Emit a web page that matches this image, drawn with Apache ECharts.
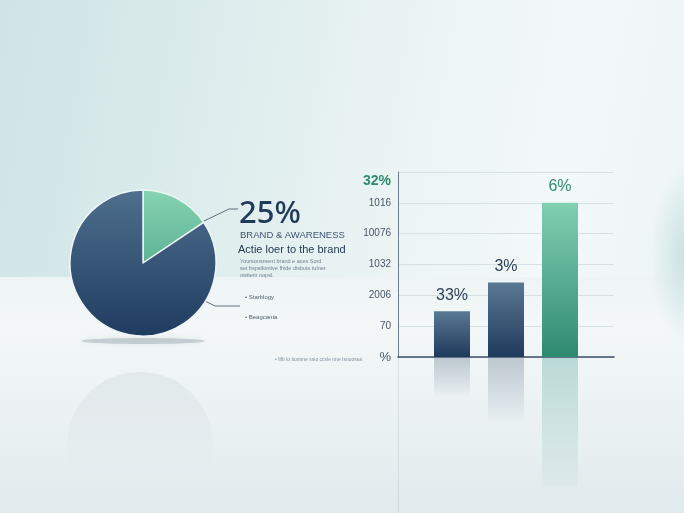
<!DOCTYPE html>
<html>
<head>
<meta charset="utf-8">
<script src="https://cdn.jsdelivr.net/npm/echarts@6/dist/echarts.min.js"></script>
<style>
html,body{margin:0;padding:0;}
#c{width:684px;height:513px;
background:
 radial-gradient(ellipse 40px 90px at 690px 255px, rgba(165,205,206,0.55), rgba(165,205,206,0) 100%),
 linear-gradient(100deg, #cfe4e5 0%, #dcecec 30%, #eaf3f3 55%, #f3f8f8 80%, #eef5f5 100%) 0 0 / 684px 277px no-repeat,
 linear-gradient(to bottom, #eef4f5 0%, #f3f7f8 20%, #e9f0f2 70%, #e0e9ec 100%) 0 277px / 684px 236px no-repeat;}
</style>
</head>
<body>
<div id="c"></div>
<script>
// ---- data ----
const pieNames = ['Brand awareness', 'Other'];
const pieValues = [15.6, 84.4];
const barCategories = [' ', 'A', 'B', 'C', '  '];
const barValues = ['-', 1.48, 2.42, 5.0, '-'];
const barLabels = ['', '33%', '3%', '6%', ''];
const yTickLabels = ['%', '70', '2006', '1032', '10076', '1016', '32%'];

const chart = echarts.init(document.getElementById('c'), null, {renderer: 'canvas'});

const navyGrad = new echarts.graphic.LinearGradient(0, 0, 0, 1, [
  {offset: 0, color: '#5a7994'}, {offset: 1, color: '#1e3a5c'}]);
const greenGrad = new echarts.graphic.LinearGradient(0, 0, 0, 1, [
  {offset: 0, color: '#82cfb1'}, {offset: 1, color: '#2f8a72'}]);
const navyRefl = new echarts.graphic.LinearGradient(0, 0, 0, 1, [
  {offset: 0, color: 'rgba(70,95,120,0.30)'}, {offset: 1, color: 'rgba(70,95,120,0.02)'}]);
const greenRefl = new echarts.graphic.LinearGradient(0, 0, 0, 1, [
  {offset: 0, color: 'rgba(80,165,150,0.34)'}, {offset: 1, color: 'rgba(80,165,150,0.03)'}]);

const barData = barValues.map((v, i) => ({
  value: v,
  itemStyle: {color: i === 3 ? greenGrad : navyGrad},
  label: {color: i === 3 ? '#2e8b6c' : '#2c3f57'}
}));
const reflData = barValues.map((v, i) => ({
  value: v,
  itemStyle: {color: i === 3 ? greenRefl : navyRefl}
}));

const pieColors = [
  new echarts.graphic.LinearGradient(0, 0, 0, 1, [{offset: 0, color: '#86d4b3'}, {offset: 1, color: '#5db293'}]),
  new echarts.graphic.LinearGradient(0, 0, 0, 1, [{offset: 0, color: '#4f6f8e'}, {offset: 1, color: '#1f3c60'}])
];
// global (pixel) gradient so both reflected slices fade together
const pieRefl = new echarts.graphic.LinearGradient(0, 372, 0, 470, [
  {offset: 0, color: 'rgba(120,138,150,0.10)'}, {offset: 0.5, color: 'rgba(120,138,150,0.05)'}, {offset: 1, color: 'rgba(120,138,150,0.0)'}], true);

const font = "'Noto Sans', 'Open Sans', sans-serif";
const font2 = "'Liberation Sans', Arial, sans-serif";

chart.setOption({
  backgroundColor: 'transparent',
  animation: false,
  textStyle: {fontFamily: font},
  grid: [
    {left: 398, top: 172, width: 216, height: 185},
    {left: 398, top: 358, width: 216, height: 185}
  ],
  xAxis: [
    {type: 'category', gridIndex: 0, data: barCategories, boundaryGap: false,
     axisLine: {show: true, lineStyle: {color: '#3b4f66', width: 1.6}},
     axisTick: {show: false}, axisLabel: {show: false}, splitLine: {show: false}},
    {type: 'category', gridIndex: 1, data: barCategories, boundaryGap: false,
     axisLine: {show: false}, axisTick: {show: false}, axisLabel: {show: false}, splitLine: {show: false}}
  ],
  yAxis: [
    {type: 'value', gridIndex: 0, min: 0, max: 6, interval: 1,
     axisLine: {show: true, lineStyle: {color: '#6f7e8c', width: 1}},
     axisTick: {show: false},
     splitLine: {show: true, lineStyle: {color: '#d6e1e4', width: 1}},
     axisLabel: {
       margin: 7, color: '#465566', fontSize: 10, fontFamily: font2,
       formatter: v => {
         const t = yTickLabels[Math.round(v)];
         if (Math.round(v) === 6) return '{top|' + t + '}';
         if (Math.round(v) === 0) return '{pct|' + t + '}';
         return t;
       },
       rich: {
         top: {color: '#2e8b6c', fontSize: 14, fontWeight: 'bold', fontFamily: font2, padding: [0, 0, -18, 0]},
         pct: {color: '#4a5868', fontSize: 13, fontFamily: font2}
       }
     }},
    {type: 'value', gridIndex: 1, min: 0, max: 6, interval: 1, inverse: true,
     axisLine: {show: true, lineStyle: {color: 'rgba(120,140,155,0.15)', width: 1}},
     axisTick: {show: false}, axisLabel: {show: false}, splitLine: {show: false}}
  ],
  series: [
    {type: 'bar', xAxisIndex: 0, yAxisIndex: 0, barWidth: 36, data: barData,
     label: {show: true, position: 'top', distance: 8, fontSize: 16, fontFamily: font2,
             formatter: p => barLabels[p.dataIndex]}},
    {type: 'bar', xAxisIndex: 1, yAxisIndex: 1, barWidth: 36, data: reflData, silent: true},
    {type: 'pie', center: [143, 263], radius: 73, startAngle: 90, clockwise: true,
     label: {show: false}, labelLine: {show: false},
     itemStyle: {borderColor: '#eef5f5', borderWidth: 1.5},
     data: pieValues.map((v, i) => ({value: v, name: pieNames[i], itemStyle: {color: pieColors[i]}}))},
    {type: 'pie', center: [140, 445], radius: 73, startAngle: 90, silent: true,
     label: {show: false}, labelLine: {show: false},
     itemStyle: {color: pieRefl, borderWidth: 0},
     emphasis: {disabled: true},
     data: pieValues.map((v, i) => ({value: v, name: pieNames[i]}))}
  ],
  graphic: [
    {type: 'ellipse', shape: {cx: 143, cy: 341, rx: 62, ry: 3}, z: -1,
     style: {fill: 'rgba(110,130,140,0.3)', shadowBlur: 6, shadowColor: 'rgba(110,130,140,0.4)'}},
    {type: 'polyline', shape: {points: [[202, 222], [229, 209], [238, 209]]},
     style: {stroke: '#5d6f80', lineWidth: 1, fill: null}},
    {type: 'polyline', shape: {points: [[180, 296], [187, 296], [207, 302], [215, 306], [240, 306]]},
     style: {stroke: '#5d6f80', lineWidth: 1, fill: null}},
    {type: 'text', x: 239, y: 199, style: {text: '25%', fontSize: 31, fontFamily: font, fontWeight: 500, fill: '#1f3a5a'}},
    {type: 'text', x: 240, y: 230, style: {text: 'BRAND & AWARENESS', fontSize: 9.5, fontFamily: font2, fill: '#3d5470'}},
    {type: 'text', x: 238, y: 244, style: {text: 'Actie loer to the brand', fontSize: 11, fontFamily: font2, fill: '#253a52'}},
    {type: 'text', x: 240, y: 258, style: {text: 'Yoursonsment brand e aces Sord', fontSize: 5.5, fontFamily: font2, fill: '#6e7f8e'}},
    {type: 'text', x: 240, y: 265, style: {text: 'set bspsifontive fhide disbuts tulner', fontSize: 5.5, fontFamily: font2, fill: '#6e7f8e'}},
    {type: 'text', x: 240, y: 272, style: {text: 'owitem nopsl.', fontSize: 5.5, fontFamily: font2, fill: '#6e7f8e'}},
    {type: 'text', x: 245, y: 294, style: {text: '• Starblogy', fontSize: 6, fontFamily: font2, fill: '#4f5f6f'}},
    {type: 'text', x: 245, y: 314, style: {text: '• Beagcanta', fontSize: 6, fontFamily: font2, fill: '#4f5f6f'}},
    {type: 'text', x: 275, y: 357, style: {text: '• Ilfb lo tionnne ssio ccsle nne Isnoossa', fontSize: 5, fontFamily: font2, fill: '#7f8f9e'}}
  ]
});
</script>
</body>
</html>
